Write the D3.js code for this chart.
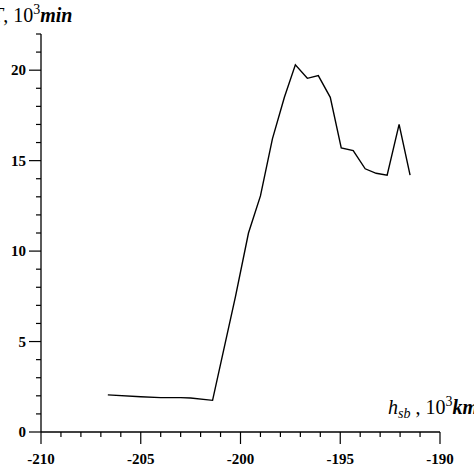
<!DOCTYPE html>
<html><head><meta charset="utf-8">
<script src="https://cdn.jsdelivr.net/npm/d3@7"></script>
<style>body{margin:0;background:#fff}text{font-family:"Liberation Serif",serif}</style>
</head><body><svg id="c" width="474" height="474"></svg>
<script>
const hsb = [-206.65,-205,-204,-203,-202.5,-201.4,-200.25,-199.6,-199,-198.4,-197.8,-197.25,-196.65,-196.1,-195.5,-194.95,-194.35,-193.75,-193.2,-192.65,-192.05,-191.5]
const T = [2.05,1.95,1.9,1.9,1.88,1.75,7.5,11,13.05,16.2,18.5,20.3,19.55,19.7,18.5,15.7,15.55,14.55,14.3,14.2,17.0,14.2]
const xTicks = [-210,-205,-200,-195,-190]
const yTicks = [0,5,10,15,20]

const svg = d3.select("#c")
const x = d3.scaleLinear().domain([-210,-190]).range([41,440])
const y = d3.scaleLinear().domain([0,22]).range([432,34])

// x axis
const gx = svg.append("g").attr("transform","translate(0,432)")
gx.append("line").attr("x1",x(-210)).attr("x2",x(-190)).attr("stroke","#000").attr("stroke-width",1.3)
gx.selectAll(".mt").data(d3.range(-210,-189,1)).enter().append("line")
  .attr("x1",d=>x(d)).attr("x2",d=>x(d)).attr("y1",0).attr("y2",d=>d%5===0?12:5).attr("stroke","#000").attr("stroke-width",1.2)
gx.selectAll("text").data(xTicks).enter().append("text")
  .attr("x",d=>x(d)).attr("y",32).attr("text-anchor","middle").attr("font-size",15).attr("font-weight","bold").text(d=>d)

// y axis
const gy = svg.append("g").attr("transform","translate(41,0)")
gy.append("line").attr("y1",y(0)).attr("y2",y(22)).attr("stroke","#000").attr("stroke-width",1.3)
gy.selectAll(".mt").data(d3.range(0,23,1)).enter().append("line")
  .attr("y1",d=>y(d)).attr("y2",d=>y(d)).attr("x1",0).attr("x2",d=>d%5===0?-12:-5).attr("stroke","#000").attr("stroke-width",1.2)
gy.selectAll("text").data(yTicks).enter().append("text")
  .attr("x",-15).attr("y",d=>y(d)+5).attr("text-anchor","end").attr("font-size",15).attr("font-weight","bold").text(d=>d)

// line
svg.append("path").datum(hsb.map((h,i)=>[h,T[i]]))
  .attr("fill","none").attr("stroke","#000").attr("stroke-width",1.4)
  .attr("d",d3.line().x(d=>x(d[0])).y(d=>y(d[1])))

// labels
const ly = svg.append("text").attr("x",-8).attr("y",22).attr("font-size",20)
ly.append("tspan").attr("font-style","italic").text("T")
ly.append("tspan").text(", 10")
ly.append("tspan").attr("font-size",14).attr("dy",-8).text("3")
ly.append("tspan").attr("dy",8).attr("font-style","italic").attr("font-weight","bold").text("min")

const lx = svg.append("text").attr("x",388).attr("y",414).attr("font-size",20)
lx.append("tspan").attr("font-style","italic").text("h")
lx.append("tspan").attr("font-style","italic").attr("font-size",14).attr("dy",4).text("sb")
lx.append("tspan").attr("dy",-4).text(" , 10")
lx.append("tspan").attr("font-size",14).attr("dy",-8).text("3")
lx.append("tspan").attr("dy",8).attr("font-style","italic").attr("font-weight","bold").text("km")
</script></body></html>
